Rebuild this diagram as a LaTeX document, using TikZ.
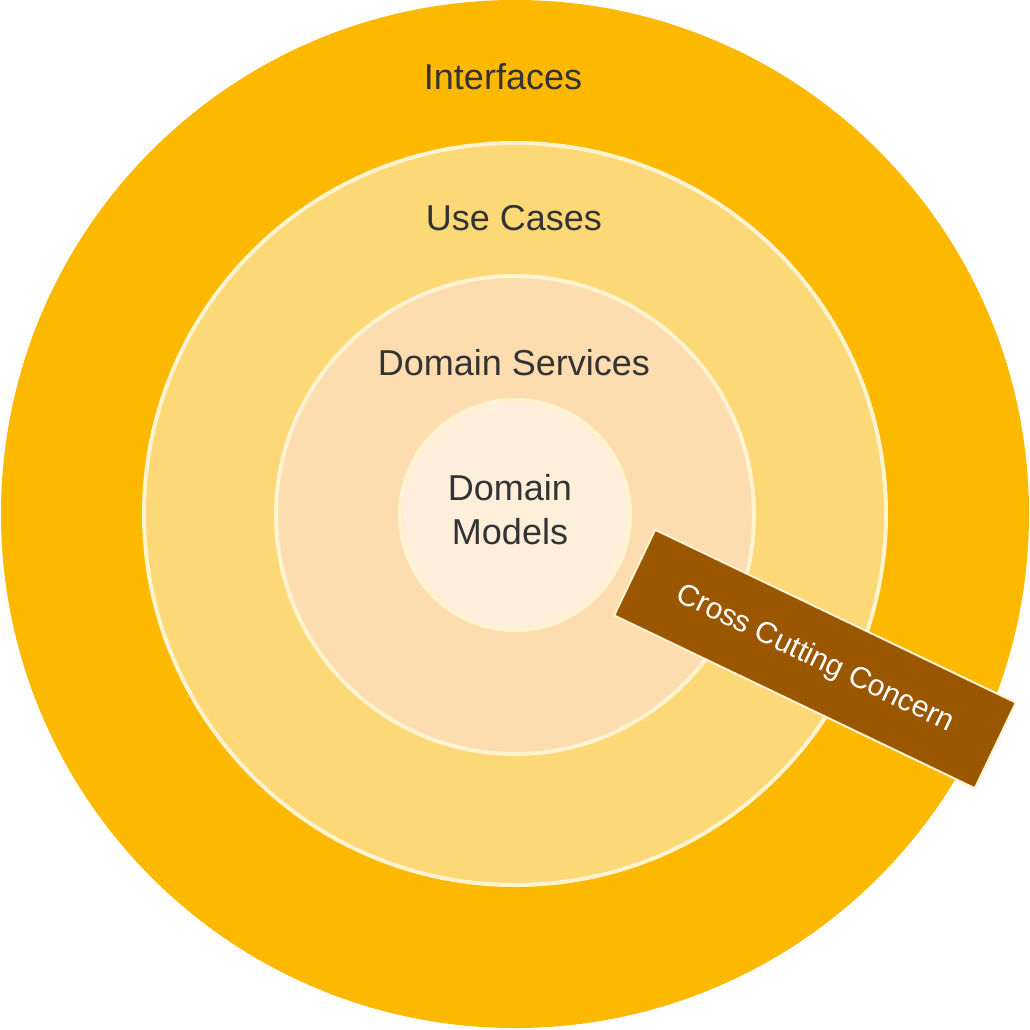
\documentclass[tikz,border=0pt]{standalone}
\usepackage{fontspec}
\setmainfont{Liberation Sans}
\begin{document}
\begin{tikzpicture}[x=1pt,y=-1pt,
  ring/.style={draw=#1,line width=4pt},
  lbl/.style={text=black!80,font=\fontsize{36}{44}\selectfont,align=center}]
\useasboundingbox (0,0) rectangle (1030,1029);
\definecolor{cA}{HTML}{FDB900}
\definecolor{cB}{HTML}{FDD877}
\definecolor{cC}{HTML}{FDDDB0}
\definecolor{cD}{HTML}{FEEEDA}
\definecolor{cE}{HTML}{9A5700}
\definecolor{rim}{HTML}{FFF3D0}
\fill[cA] (515,514) circle (514);
\filldraw[fill=cB,ring=rim] (515,514) circle (371);
\filldraw[fill=cC,ring=rim] (515,515) circle (239);
\filldraw[fill=cD,ring=rim] (515,515) circle (115);
\node[lbl] (interfaces) at (503,77) {Interfaces};
\node[lbl] (usecases) at (514,218) {Use Cases};
\node[lbl] (services) at (514,363) {Domain Services};
\node[lbl] (models) at (510,510) {Domain\\Models};
\node[draw=rim,line width=2pt,fill=cE,minimum width=400,minimum height=95,rotate=-25.6,
  text=white,font=\fontsize{30}{36}\selectfont] (ccc) at (815,659) {Cross Cutting Concern};
\end{tikzpicture}
\end{document}
